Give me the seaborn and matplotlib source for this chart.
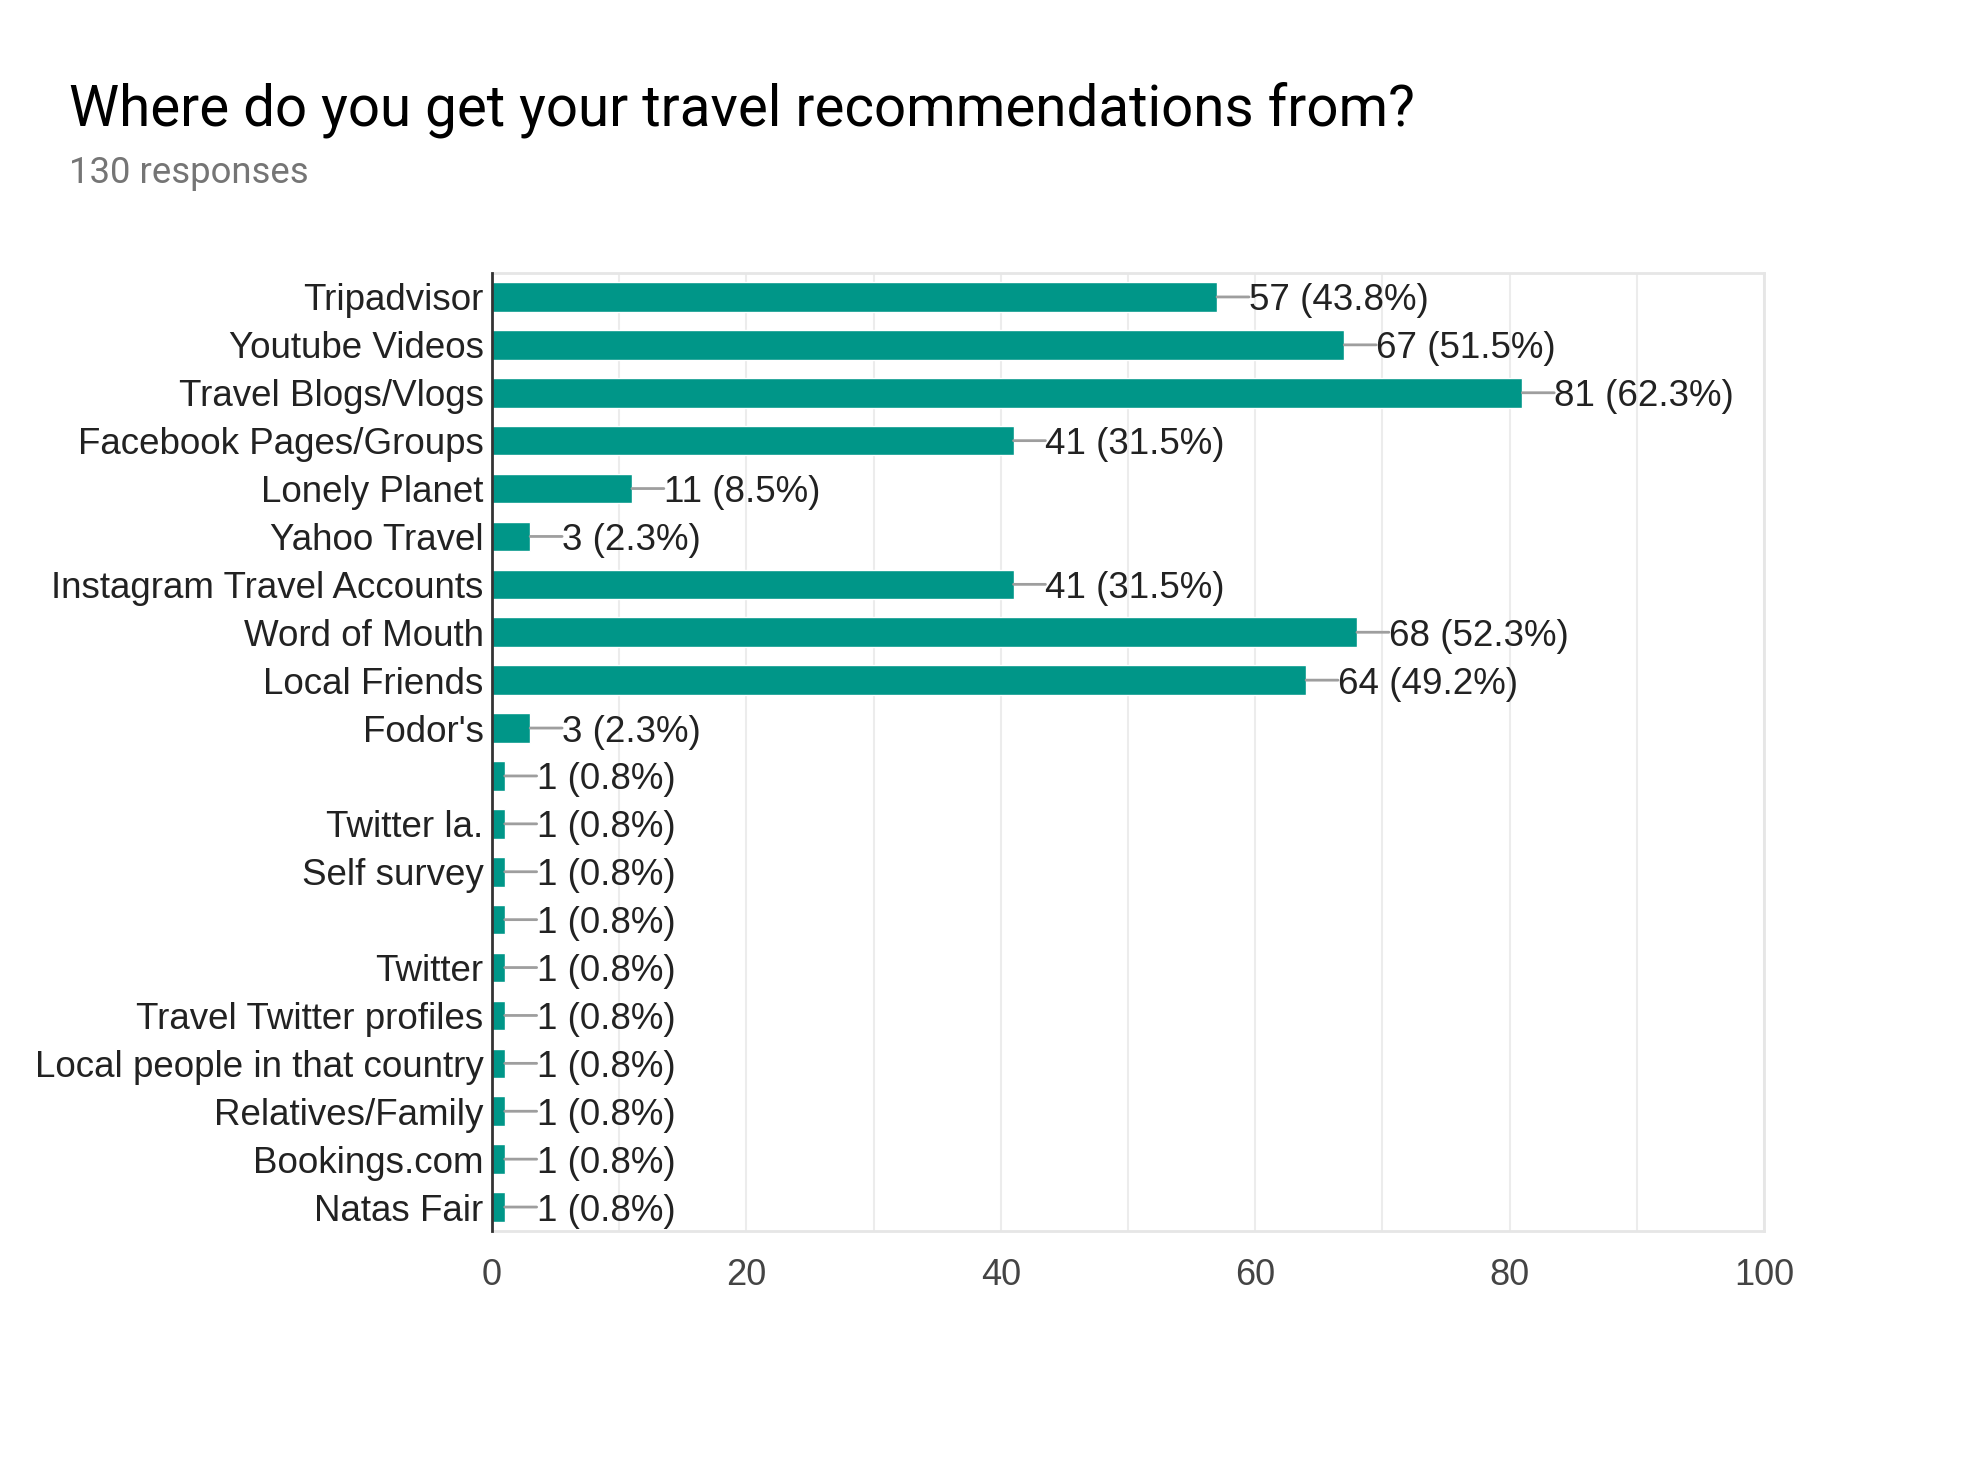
import matplotlib
matplotlib.use("Agg")
import matplotlib.pyplot as plt
import seaborn as sns
import pandas as pd

# ---- data ----
categories = [
    "Tripadvisor", "Youtube Videos", "Travel Blogs/Vlogs", "Facebook Pages/Groups",
    "Lonely Planet", "Yahoo Travel", "Instagram Travel Accounts", "Word of Mouth",
    "Local Friends", "Fodor's", " ", "Twitter la.", "Self survey", "  ",
    "Twitter", "Travel Twitter profiles", "Local people in that country",
    "Relatives/Family", "Bookings.com", "Natas Fair",
]
counts = [57, 67, 81, 41, 11, 3, 41, 68, 64, 3, 1, 1, 1, 1, 1, 1, 1, 1, 1, 1]
percents = ["43.8%", "51.5%", "62.3%", "31.5%", "8.5%", "2.3%", "31.5%", "52.3%",
            "49.2%", "2.3%", "0.8%", "0.8%", "0.8%", "0.8%", "0.8%", "0.8%",
            "0.8%", "0.8%", "0.8%", "0.8%"]
x_ticks = [0, 20, 40, 60, 80, 100]
title = "Where do you get your travel recommendations from?"
subtitle = "130 responses"

df = pd.DataFrame({"source": categories, "count": counts})

sns.set_theme(style="white")
plt.rcParams["font.family"] = ["Liberation Sans", "DejaVu Sans"]

fig = plt.figure(figsize=(19.62, 14.66), dpi=100)
ax = fig.add_axes([492 / 1962, 1 - 1231 / 1466, (1764 - 492) / 1962, (1231 - 273) / 1466])

sns.barplot(data=df, x="count", y="source", order=categories, orient="h",
            color="#009688", saturation=1, width=0.62, ax=ax, zorder=3)

ax.set_xlim(0, 100)
ax.set_xticks(x_ticks)
ax.set_xticks(range(10, 100, 10), minor=True)
ax.grid(axis="x", which="both", color="#ececec", lw=1.5, zorder=0)
ax.set_axisbelow(True)
ax.set_xlabel("")
ax.set_ylabel("")
ax.tick_params(axis="x", length=0, pad=19.5, labelsize=26, labelcolor="#444444")
ax.tick_params(axis="x", which="minor", length=0)
ax.tick_params(axis="y", length=0, pad=6, labelsize=26.5, labelcolor="#222222")
for lbl in ax.get_yticklabels():
    lbl.set_verticalalignment("center_baseline")

for side in ["top", "right", "bottom"]:
    ax.spines[side].set_visible(True)
    ax.spines[side].set_color("#e6e6e6")
    ax.spines[side].set_linewidth(2)
ax.spines["left"].set_color("#333333")
ax.spines["left"].set_linewidth(2)
ax.spines["left"].set_zorder(5)

for i, (c, p) in enumerate(zip(counts, percents)):
    # horizontal connector line from bar end
    ax.annotate("", xy=(c, i), xytext=(23, 0), textcoords="offset points",
                arrowprops=dict(arrowstyle="-", color="#9e9e9e", lw=2,
                                shrinkA=0, shrinkB=0),
                zorder=4)
    ax.annotate(f"{c} ({p})", xy=(c, i), xytext=(23, 0), textcoords="offset points",
                ha="left", va="center_baseline", fontsize=26.5, color="#222222",
                zorder=4)

fig.text(55 * 1.2513 / 1962, 1 - 125 / 1466, title, fontsize=40.7,
         family=["Roboto", "DejaVu Sans"], color="#000000", ha="left", va="baseline")
fig.text(55 * 1.2513 / 1962, 1 - 183 / 1466, subtitle, fontsize=26.3,
         family=["Roboto", "DejaVu Sans"], color="#757575", ha="left", va="baseline")

fig.savefig("out.png", dpi=100, facecolor="white")
